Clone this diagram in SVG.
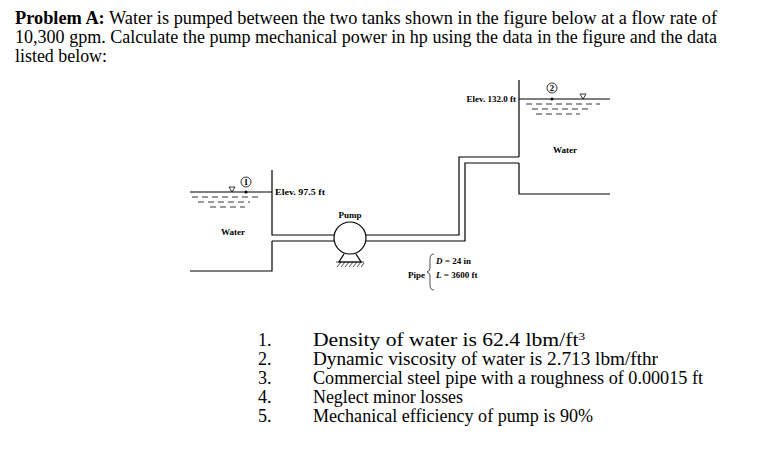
<svg xmlns="http://www.w3.org/2000/svg" width="773" height="474" viewBox="0 0 773 474">
<style>
.t{font-family:"Liberation Serif",serif;font-size:18px;fill:#000}
.s{font-family:"Liberation Serif",serif;font-size:9px;fill:#000;font-weight:bold}
.l{stroke:#000;stroke-width:1.2;fill:none}
.d{stroke:#000;stroke-width:0.8;stroke-dasharray:6,4;fill:none}
</style>
<rect width="773" height="474" fill="#fff"/>
<g id="problem">
<text class="t" x="15" y="24" textLength="702" lengthAdjust="spacingAndGlyphs"><tspan font-weight="bold">Problem A:</tspan> Water is pumped between the two tanks shown in the figure below at a flow rate of</text>
<text class="t" x="15" y="43" textLength="702" lengthAdjust="spacingAndGlyphs">10,300 gpm. Calculate the pump mechanical power in hp using the data in the figure and the data</text>
<text class="t" x="15" y="62" textLength="92" lengthAdjust="spacingAndGlyphs">listed below:</text>
</g>
<g id="tank1">
<line class="l" x1="190" y1="192" x2="272" y2="192"/>
<path class="d" d="M192 197H260M198 202H250M210 207H245"/>
<path class="l" d="M272 170V235H334M272 241H334M190 271H272V241"/>
<polygon points="229,187 235,187 232,192" fill="none" stroke="#000" stroke-width="0.8"/>
<circle cx="246" cy="182" r="5" fill="none" stroke="#000" stroke-width="0.8"/>
<text class="s" x="246" y="185" text-anchor="middle" font-weight="normal">1</text>
<circle cx="246" cy="192" r="1.5"/>
<text class="s" x="275" y="195" textLength="50" lengthAdjust="spacingAndGlyphs">Elev. 97.5 ft</text>
<text class="s" x="233" y="235" text-anchor="middle">Water</text>
</g>
<g id="pump">
<circle class="l" cx="350" cy="238" r="16"/>
<path class="l" d="M344 254L339 262H361L356 254" stroke-width="0.8"/>
<path d="M336 262h28M337 267l4-5M341 267l4-5M345 267l4-5M349 267l4-5M353 267l4-5M357 267l4-5M361 267l3-4" stroke="#000" stroke-width="0.7"/>
<text class="s" x="350" y="218" text-anchor="middle">Pump</text>
</g>
<g id="connectors">
<path class="l" d="M366 235H459V157H519M366 241H465V163H519"/>
</g>
<g id="tank2">
<path class="l" d="M519 80V157M519 163V194H610"/>
<line class="l" x1="519" y1="99" x2="610" y2="99"/>
<path class="d" d="M526 104H600M532 109H590M536 114H580"/>
<polygon points="580,94 586,94 583,99" fill="none" stroke="#000" stroke-width="0.8"/>
<circle cx="552" cy="88" r="5" fill="none" stroke="#000" stroke-width="0.8"/>
<text class="s" x="552" y="91" text-anchor="middle">2</text>
<circle cx="552" cy="99" r="1.5"/>
<text class="s" x="516" y="102" text-anchor="end">Elev. 132.0 ft</text>
<text class="s" x="565" y="153" text-anchor="middle">Water</text>
</g>
<g id="pipe-label">
<text class="s" x="425" y="278" text-anchor="end">Pipe</text>
<path d="M434 254Q430 254 430 259V268Q430 271 427 272Q430 273 430 276V285Q430 290 434 290" fill="none" stroke="#000" stroke-width="0.7"/>
<text class="s" x="436" y="264"><tspan font-style="italic">D</tspan> = 24 in</text>
<text class="s" x="436" y="278"><tspan font-style="italic">L</tspan> = 3600 ft</text>
</g>
<g id="list">
<text class="t" x="258" y="346">1.</text><text class="t" x="313" y="346" textLength="272" lengthAdjust="spacingAndGlyphs">Density of water is 62.4 lbm/ft<tspan dy="-6" font-size="11">3</tspan></text>
<text class="t" x="258" y="365">2.</text><text class="t" x="313" y="365" textLength="345" lengthAdjust="spacingAndGlyphs">Dynamic viscosity of water is 2.713 lbm/fthr</text>
<text class="t" x="258" y="384">3.</text><text class="t" x="313" y="384" textLength="390" lengthAdjust="spacingAndGlyphs">Commercial steel pipe with a roughness of 0.00015 ft</text>
<text class="t" x="258" y="403">4.</text><text class="t" x="313" y="403" textLength="150" lengthAdjust="spacingAndGlyphs">Neglect minor losses</text>
<text class="t" x="258" y="422">5.</text><text class="t" x="313" y="422" textLength="280" lengthAdjust="spacingAndGlyphs">Mechanical efficiency of pump is 90%</text>
</g>
</svg>
